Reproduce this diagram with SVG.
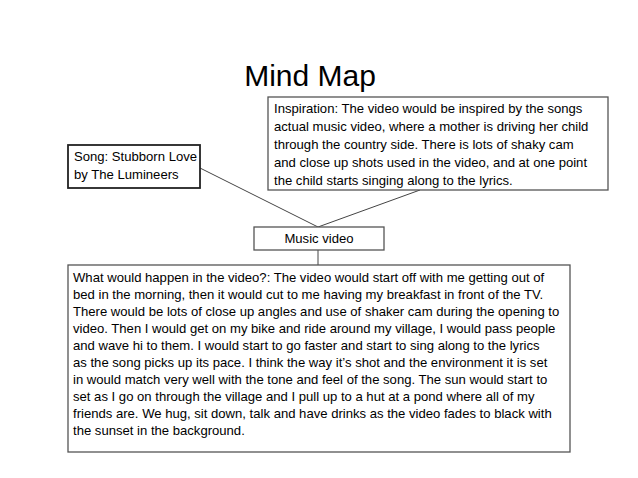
<svg xmlns="http://www.w3.org/2000/svg" width="638" height="478" viewBox="0 0 638 478">
<style>
text{font-family:"Liberation Sans","Open Sans",sans-serif;fill:#000;font-size:13.1px}
.box{fill:#fff;stroke:#555;stroke-width:1.3}
.ln{stroke:#444;stroke-width:1}
.t{font-size:30px}
</style>
<rect width="638" height="478" fill="#fff"/>
<text class="t" x="310" y="86" text-anchor="middle">Mind Map</text>
<g id="connectors">
<line class="ln" x1="200" y1="168" x2="318" y2="227"/>
<line class="ln" x1="420" y1="190" x2="318" y2="227"/>
<line class="ln" x1="318" y1="250" x2="318" y2="265"/>
</g>
<g id="inspiration">
<rect class="box" x="268" y="97" width="340" height="93"/>
<text x="274" y="113">Inspiration: The video would be inspired by the songs</text>
<text x="274" y="131">actual music video, where a mother is driving her child</text>
<text x="274" y="149">through the country side. There is lots of shaky cam</text>
<text x="274" y="167">and close up shots used in the video, and at one point</text>
<text x="274" y="185">the child starts singing along to the lyrics.</text>
</g>
<g id="song">
<rect class="box" x="68" y="145" width="132" height="43" style="stroke:#222;stroke-width:1.8"/>
<text x="74" y="161">Song: Stubborn Love</text>
<text x="74" y="179">by The Lumineers</text>
</g>
<g id="music">
<rect class="box" x="254" y="227" width="130" height="23"/>
<text x="319" y="243" text-anchor="middle">Music video</text>
</g>
<g id="what">
<rect class="box" x="68" y="265" width="502" height="187"/>
<text x="73" y="282">What would happen in the video?: The video would start off with me getting out of</text>
<text x="73" y="299">bed in the morning, then it would cut to me having my breakfast in front of the TV.</text>
<text x="73" y="316">There would be lots of close up angles and use of shaker cam during the opening to</text>
<text x="73" y="333">video. Then I would get on my bike and ride around my village, I would pass people</text>
<text x="73" y="350">and wave hi to them. I would start to go faster and start to sing along to the lyrics</text>
<text x="73" y="367">as the song picks up its pace. I think the way it’s shot and the environment it is set</text>
<text x="73" y="384">in would match very well with the tone and feel of the song. The sun would start to</text>
<text x="73" y="401">set as I go on through the village and I pull up to a hut at a pond where all of my</text>
<text x="73" y="418">friends are. We hug, sit down, talk and have drinks as the video fades to black with</text>
<text x="73" y="435">the sunset in the background.</text>
</g>
</svg>
